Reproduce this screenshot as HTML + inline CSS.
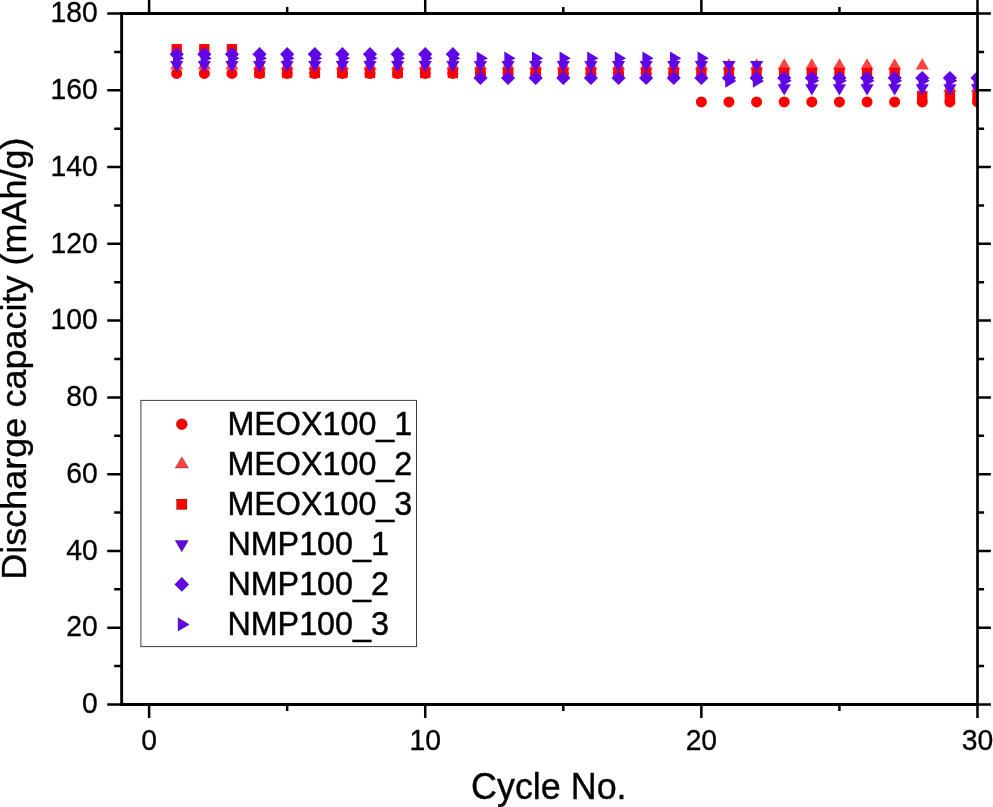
<!DOCTYPE html>
<html><head><meta charset="utf-8"><title>Discharge capacity</title>
<style>html,body{margin:0;padding:0;background:#fff}body{width:993px;height:807px;overflow:hidden}</style></head>
<body>
<svg width="993" height="807" viewBox="0 0 993 807" style="display:block">
<rect width="993" height="807" fill="#fff"/>
<defs><clipPath id="pc"><rect x="121.65" y="13.5" width="855.85" height="691.0"/></clipPath></defs>
<g clip-path="url(#pc)" shape-rendering="geometricPrecision">
<circle cx="176.71" cy="73.38" r="5.50" fill="#ff0000"/>
<circle cx="204.33" cy="73.38" r="5.50" fill="#ff0000"/>
<circle cx="231.94" cy="73.38" r="5.50" fill="#ff0000"/>
<circle cx="259.55" cy="73.38" r="5.50" fill="#ff0000"/>
<circle cx="287.16" cy="73.38" r="5.50" fill="#ff0000"/>
<circle cx="314.78" cy="73.38" r="5.50" fill="#ff0000"/>
<circle cx="342.39" cy="73.38" r="5.50" fill="#ff0000"/>
<circle cx="370.00" cy="73.38" r="5.50" fill="#ff0000"/>
<circle cx="397.62" cy="73.38" r="5.50" fill="#ff0000"/>
<circle cx="425.23" cy="73.38" r="5.50" fill="#ff0000"/>
<circle cx="452.84" cy="73.38" r="5.50" fill="#ff0000"/>
<circle cx="480.46" cy="73.38" r="5.50" fill="#ff0000"/>
<circle cx="508.07" cy="73.38" r="5.50" fill="#ff0000"/>
<circle cx="535.68" cy="73.38" r="5.50" fill="#ff0000"/>
<circle cx="563.29" cy="73.38" r="5.50" fill="#ff0000"/>
<circle cx="590.91" cy="73.38" r="5.50" fill="#ff0000"/>
<circle cx="618.52" cy="73.38" r="5.50" fill="#ff0000"/>
<circle cx="646.13" cy="73.38" r="5.50" fill="#ff0000"/>
<circle cx="673.75" cy="73.38" r="5.50" fill="#ff0000"/>
<circle cx="701.36" cy="101.98" r="5.50" fill="#ff0000"/>
<circle cx="728.97" cy="101.98" r="5.50" fill="#ff0000"/>
<circle cx="756.59" cy="101.98" r="5.50" fill="#ff0000"/>
<circle cx="784.20" cy="101.98" r="5.50" fill="#ff0000"/>
<circle cx="811.81" cy="101.98" r="5.50" fill="#ff0000"/>
<circle cx="839.43" cy="101.98" r="5.50" fill="#ff0000"/>
<circle cx="867.04" cy="101.98" r="5.50" fill="#ff0000"/>
<circle cx="894.65" cy="101.98" r="5.50" fill="#ff0000"/>
<circle cx="922.26" cy="101.98" r="5.50" fill="#ff0000"/>
<circle cx="949.88" cy="101.98" r="5.50" fill="#ff0000"/>
<circle cx="977.49" cy="101.98" r="5.50" fill="#ff0000"/>
<polygon points="176.71,58.24 183.31,69.44 170.11,69.44" fill="#ff4343"/>
<polygon points="204.33,58.24 210.93,69.44 197.73,69.44" fill="#ff4343"/>
<polygon points="231.94,58.24 238.54,69.44 225.34,69.44" fill="#ff4343"/>
<polygon points="259.55,58.24 266.15,69.44 252.95,69.44" fill="#ff4343"/>
<polygon points="287.16,58.24 293.76,69.44 280.56,69.44" fill="#ff4343"/>
<polygon points="314.78,58.24 321.38,69.44 308.18,69.44" fill="#ff4343"/>
<polygon points="342.39,58.24 348.99,69.44 335.79,69.44" fill="#ff4343"/>
<polygon points="370.00,58.24 376.60,69.44 363.40,69.44" fill="#ff4343"/>
<polygon points="397.62,58.24 404.22,69.44 391.02,69.44" fill="#ff4343"/>
<polygon points="425.23,58.24 431.83,69.44 418.63,69.44" fill="#ff4343"/>
<polygon points="452.84,58.24 459.44,69.44 446.24,69.44" fill="#ff4343"/>
<polygon points="480.46,58.24 487.06,69.44 473.86,69.44" fill="#ff4343"/>
<polygon points="508.07,58.24 514.67,69.44 501.47,69.44" fill="#ff4343"/>
<polygon points="535.68,58.24 542.28,69.44 529.08,69.44" fill="#ff4343"/>
<polygon points="563.29,58.24 569.89,69.44 556.69,69.44" fill="#ff4343"/>
<polygon points="590.91,58.24 597.51,69.44 584.31,69.44" fill="#ff4343"/>
<polygon points="618.52,58.24 625.12,69.44 611.92,69.44" fill="#ff4343"/>
<polygon points="646.13,58.24 652.73,69.44 639.53,69.44" fill="#ff4343"/>
<polygon points="673.75,58.24 680.35,69.44 667.15,69.44" fill="#ff4343"/>
<polygon points="701.36,58.24 707.96,69.44 694.76,69.44" fill="#ff4343"/>
<polygon points="728.97,58.24 735.57,69.44 722.37,69.44" fill="#ff4343"/>
<polygon points="756.59,58.24 763.19,69.44 749.99,69.44" fill="#ff4343"/>
<polygon points="784.20,58.24 790.80,69.44 777.60,69.44" fill="#ff4343"/>
<polygon points="811.81,58.24 818.41,69.44 805.21,69.44" fill="#ff4343"/>
<polygon points="839.43,58.24 846.03,69.44 832.83,69.44" fill="#ff4343"/>
<polygon points="867.04,58.24 873.64,69.44 860.44,69.44" fill="#ff4343"/>
<polygon points="894.65,58.24 901.25,69.44 888.05,69.44" fill="#ff4343"/>
<polygon points="922.26,58.24 928.86,69.44 915.66,69.44" fill="#ff4343"/>
<polygon points="949.88,80.51 956.48,91.71 943.28,91.71" fill="#ff4343"/>
<polygon points="977.49,80.51 984.09,91.71 970.89,91.71" fill="#ff4343"/>
<rect x="171.56" y="44.05" width="10.3" height="10.3" fill="#ff0000"/>
<rect x="199.18" y="44.05" width="10.3" height="10.3" fill="#ff0000"/>
<rect x="226.79" y="44.05" width="10.3" height="10.3" fill="#ff0000"/>
<rect x="254.40" y="67.85" width="10.3" height="10.3" fill="#ff0000"/>
<rect x="282.01" y="67.85" width="10.3" height="10.3" fill="#ff0000"/>
<rect x="309.63" y="67.85" width="10.3" height="10.3" fill="#ff0000"/>
<rect x="337.24" y="67.85" width="10.3" height="10.3" fill="#ff0000"/>
<rect x="364.85" y="67.85" width="10.3" height="10.3" fill="#ff0000"/>
<rect x="392.47" y="67.85" width="10.3" height="10.3" fill="#ff0000"/>
<rect x="420.08" y="67.85" width="10.3" height="10.3" fill="#ff0000"/>
<rect x="447.69" y="67.85" width="10.3" height="10.3" fill="#ff0000"/>
<rect x="475.31" y="67.85" width="10.3" height="10.3" fill="#ff0000"/>
<rect x="502.92" y="67.85" width="10.3" height="10.3" fill="#ff0000"/>
<rect x="530.53" y="67.85" width="10.3" height="10.3" fill="#ff0000"/>
<rect x="558.14" y="67.85" width="10.3" height="10.3" fill="#ff0000"/>
<rect x="585.76" y="67.85" width="10.3" height="10.3" fill="#ff0000"/>
<rect x="613.37" y="67.85" width="10.3" height="10.3" fill="#ff0000"/>
<rect x="640.98" y="67.85" width="10.3" height="10.3" fill="#ff0000"/>
<rect x="668.60" y="67.85" width="10.3" height="10.3" fill="#ff0000"/>
<rect x="696.21" y="67.85" width="10.3" height="10.3" fill="#ff0000"/>
<rect x="723.82" y="67.85" width="10.3" height="10.3" fill="#ff0000"/>
<rect x="751.44" y="67.85" width="10.3" height="10.3" fill="#ff0000"/>
<rect x="779.05" y="67.85" width="10.3" height="10.3" fill="#ff0000"/>
<rect x="806.66" y="67.85" width="10.3" height="10.3" fill="#ff0000"/>
<rect x="834.28" y="67.85" width="10.3" height="10.3" fill="#ff0000"/>
<rect x="861.89" y="67.85" width="10.3" height="10.3" fill="#ff0000"/>
<rect x="889.50" y="67.85" width="10.3" height="10.3" fill="#ff0000"/>
<rect x="917.11" y="90.88" width="10.3" height="10.3" fill="#ff0000"/>
<rect x="944.73" y="90.88" width="10.3" height="10.3" fill="#ff0000"/>
<rect x="972.34" y="90.88" width="10.3" height="10.3" fill="#ff0000"/>
<polygon points="176.71,72.21 183.31,61.01 170.11,61.01" fill="#5f05e6"/>
<polygon points="204.33,72.21 210.93,61.01 197.73,61.01" fill="#5f05e6"/>
<polygon points="231.94,72.21 238.54,61.01 225.34,61.01" fill="#5f05e6"/>
<polygon points="259.55,72.21 266.15,61.01 252.95,61.01" fill="#5f05e6"/>
<polygon points="287.16,72.21 293.76,61.01 280.56,61.01" fill="#5f05e6"/>
<polygon points="314.78,72.21 321.38,61.01 308.18,61.01" fill="#5f05e6"/>
<polygon points="342.39,72.21 348.99,61.01 335.79,61.01" fill="#5f05e6"/>
<polygon points="370.00,72.21 376.60,61.01 363.40,61.01" fill="#5f05e6"/>
<polygon points="397.62,72.21 404.22,61.01 391.02,61.01" fill="#5f05e6"/>
<polygon points="425.23,72.21 431.83,61.01 418.63,61.01" fill="#5f05e6"/>
<polygon points="452.84,72.21 459.44,61.01 446.24,61.01" fill="#5f05e6"/>
<polygon points="480.46,72.21 487.06,61.01 473.86,61.01" fill="#5f05e6"/>
<polygon points="508.07,72.21 514.67,61.01 501.47,61.01" fill="#5f05e6"/>
<polygon points="535.68,72.21 542.28,61.01 529.08,61.01" fill="#5f05e6"/>
<polygon points="563.29,72.21 569.89,61.01 556.69,61.01" fill="#5f05e6"/>
<polygon points="590.91,72.21 597.51,61.01 584.31,61.01" fill="#5f05e6"/>
<polygon points="618.52,72.21 625.12,61.01 611.92,61.01" fill="#5f05e6"/>
<polygon points="646.13,72.21 652.73,61.01 639.53,61.01" fill="#5f05e6"/>
<polygon points="673.75,72.21 680.35,61.01 667.15,61.01" fill="#5f05e6"/>
<polygon points="701.36,72.21 707.96,61.01 694.76,61.01" fill="#5f05e6"/>
<polygon points="728.97,72.21 735.57,61.01 722.37,61.01" fill="#5f05e6"/>
<polygon points="756.59,72.21 763.19,61.01 749.99,61.01" fill="#5f05e6"/>
<polygon points="784.20,95.44 790.80,84.24 777.60,84.24" fill="#5f05e6"/>
<polygon points="811.81,95.44 818.41,84.24 805.21,84.24" fill="#5f05e6"/>
<polygon points="839.43,95.44 846.03,84.24 832.83,84.24" fill="#5f05e6"/>
<polygon points="867.04,95.44 873.64,84.24 860.44,84.24" fill="#5f05e6"/>
<polygon points="894.65,95.44 901.25,84.24 888.05,84.24" fill="#5f05e6"/>
<polygon points="922.26,95.44 928.86,84.24 915.66,84.24" fill="#5f05e6"/>
<polygon points="949.88,95.44 956.48,84.24 943.28,84.24" fill="#5f05e6"/>
<polygon points="977.49,95.44 984.09,84.24 970.89,84.24" fill="#5f05e6"/>
<polygon points="176.71,47.09 183.81,54.19 176.71,61.29 169.61,54.19" fill="#5f05e6"/>
<polygon points="204.33,47.09 211.43,54.19 204.33,61.29 197.23,54.19" fill="#5f05e6"/>
<polygon points="231.94,47.09 239.04,54.19 231.94,61.29 224.84,54.19" fill="#5f05e6"/>
<polygon points="259.55,47.09 266.65,54.19 259.55,61.29 252.45,54.19" fill="#5f05e6"/>
<polygon points="287.16,47.09 294.26,54.19 287.16,61.29 280.06,54.19" fill="#5f05e6"/>
<polygon points="314.78,47.09 321.88,54.19 314.78,61.29 307.68,54.19" fill="#5f05e6"/>
<polygon points="342.39,47.09 349.49,54.19 342.39,61.29 335.29,54.19" fill="#5f05e6"/>
<polygon points="370.00,47.09 377.10,54.19 370.00,61.29 362.90,54.19" fill="#5f05e6"/>
<polygon points="397.62,47.09 404.72,54.19 397.62,61.29 390.52,54.19" fill="#5f05e6"/>
<polygon points="425.23,47.09 432.33,54.19 425.23,61.29 418.13,54.19" fill="#5f05e6"/>
<polygon points="452.84,47.09 459.94,54.19 452.84,61.29 445.74,54.19" fill="#5f05e6"/>
<polygon points="480.46,70.89 487.56,77.99 480.46,85.09 473.36,77.99" fill="#5f05e6"/>
<polygon points="508.07,70.89 515.17,77.99 508.07,85.09 500.97,77.99" fill="#5f05e6"/>
<polygon points="535.68,70.89 542.78,77.99 535.68,85.09 528.58,77.99" fill="#5f05e6"/>
<polygon points="563.29,70.89 570.39,77.99 563.29,85.09 556.19,77.99" fill="#5f05e6"/>
<polygon points="590.91,70.89 598.01,77.99 590.91,85.09 583.81,77.99" fill="#5f05e6"/>
<polygon points="618.52,70.89 625.62,77.99 618.52,85.09 611.42,77.99" fill="#5f05e6"/>
<polygon points="646.13,70.89 653.23,77.99 646.13,85.09 639.03,77.99" fill="#5f05e6"/>
<polygon points="673.75,70.89 680.85,77.99 673.75,85.09 666.65,77.99" fill="#5f05e6"/>
<polygon points="701.36,70.89 708.46,77.99 701.36,85.09 694.26,77.99" fill="#5f05e6"/>
<polygon points="728.97,70.89 736.07,77.99 728.97,85.09 721.87,77.99" fill="#5f05e6"/>
<polygon points="756.59,70.89 763.69,77.99 756.59,85.09 749.49,77.99" fill="#5f05e6"/>
<polygon points="784.20,70.89 791.30,77.99 784.20,85.09 777.10,77.99" fill="#5f05e6"/>
<polygon points="811.81,70.89 818.91,77.99 811.81,85.09 804.71,77.99" fill="#5f05e6"/>
<polygon points="839.43,70.89 846.53,77.99 839.43,85.09 832.33,77.99" fill="#5f05e6"/>
<polygon points="867.04,70.89 874.14,77.99 867.04,85.09 859.94,77.99" fill="#5f05e6"/>
<polygon points="894.65,70.89 901.75,77.99 894.65,85.09 887.55,77.99" fill="#5f05e6"/>
<polygon points="922.26,70.89 929.36,77.99 922.26,85.09 915.16,77.99" fill="#5f05e6"/>
<polygon points="949.88,70.89 956.98,77.99 949.88,85.09 942.78,77.99" fill="#5f05e6"/>
<polygon points="977.49,70.89 984.59,77.99 977.49,85.09 970.39,77.99" fill="#5f05e6"/>
<polygon points="184.18,58.22 172.98,51.62 172.98,64.82" fill="#5f05e6"/>
<polygon points="211.79,58.22 200.59,51.62 200.59,64.82" fill="#5f05e6"/>
<polygon points="239.41,58.22 228.21,51.62 228.21,64.82" fill="#5f05e6"/>
<polygon points="267.02,58.22 255.82,51.62 255.82,64.82" fill="#5f05e6"/>
<polygon points="294.63,58.22 283.43,51.62 283.43,64.82" fill="#5f05e6"/>
<polygon points="322.24,58.22 311.04,51.62 311.04,64.82" fill="#5f05e6"/>
<polygon points="349.86,58.22 338.66,51.62 338.66,64.82" fill="#5f05e6"/>
<polygon points="377.47,58.22 366.27,51.62 366.27,64.82" fill="#5f05e6"/>
<polygon points="405.08,58.22 393.88,51.62 393.88,64.82" fill="#5f05e6"/>
<polygon points="432.70,58.22 421.50,51.62 421.50,64.82" fill="#5f05e6"/>
<polygon points="460.31,58.22 449.11,51.62 449.11,64.82" fill="#5f05e6"/>
<polygon points="487.92,58.22 476.72,51.62 476.72,64.82" fill="#5f05e6"/>
<polygon points="515.54,58.22 504.34,51.62 504.34,64.82" fill="#5f05e6"/>
<polygon points="543.15,58.22 531.95,51.62 531.95,64.82" fill="#5f05e6"/>
<polygon points="570.76,58.22 559.56,51.62 559.56,64.82" fill="#5f05e6"/>
<polygon points="598.37,58.22 587.17,51.62 587.17,64.82" fill="#5f05e6"/>
<polygon points="625.99,58.22 614.79,51.62 614.79,64.82" fill="#5f05e6"/>
<polygon points="653.60,58.22 642.40,51.62 642.40,64.82" fill="#5f05e6"/>
<polygon points="681.21,58.22 670.01,51.62 670.01,64.82" fill="#5f05e6"/>
<polygon points="708.83,58.22 697.63,51.62 697.63,64.82" fill="#5f05e6"/>
<polygon points="736.44,81.06 725.24,74.46 725.24,87.66" fill="#5f05e6"/>
<polygon points="764.05,81.06 752.85,74.46 752.85,87.66" fill="#5f05e6"/>
<polygon points="791.67,80.68 780.47,74.08 780.47,87.28" fill="#5f05e6"/>
<polygon points="819.28,80.68 808.08,74.08 808.08,87.28" fill="#5f05e6"/>
<polygon points="846.89,80.68 835.69,74.08 835.69,87.28" fill="#5f05e6"/>
<polygon points="874.50,80.68 863.30,74.08 863.30,87.28" fill="#5f05e6"/>
<polygon points="902.12,80.68 890.92,74.08 890.92,87.28" fill="#5f05e6"/>
<polygon points="929.73,80.68 918.53,74.08 918.53,87.28" fill="#5f05e6"/>
<polygon points="957.34,80.68 946.14,74.08 946.14,87.28" fill="#5f05e6"/>
<polygon points="984.96,80.68 973.76,74.08 973.76,87.28" fill="#5f05e6"/>
</g>
<g stroke="#000" stroke-width="2.9" fill="none" stroke-linecap="butt">
<path d="M121.65 12.05V706.0" stroke-width="2.9"/>
<path d="M977.5 12.05V706.0" stroke-width="2.7"/>
<path d="M120.2 13.5H978.75" stroke-width="2.9"/>
<path d="M120.2 704.5H978.75" stroke-width="3.0"/>
</g>
<g stroke="#000" stroke-width="2.5" fill="none" stroke-linecap="butt">
<path d="M107.25 704.50H121.65M977.5 704.50H990.90"/>
<path d="M114.20 666.11H121.65M977.5 666.11H984.10"/>
<path d="M107.25 627.72H121.65M977.5 627.72H990.90"/>
<path d="M114.20 589.33H121.65M977.5 589.33H984.10"/>
<path d="M107.25 550.94H121.65M977.5 550.94H990.90"/>
<path d="M114.20 512.55H121.65M977.5 512.55H984.10"/>
<path d="M107.25 474.17H121.65M977.5 474.17H990.90"/>
<path d="M114.20 435.78H121.65M977.5 435.78H984.10"/>
<path d="M107.25 397.39H121.65M977.5 397.39H990.90"/>
<path d="M114.20 359.00H121.65M977.5 359.00H984.10"/>
<path d="M107.25 320.61H121.65M977.5 320.61H990.90"/>
<path d="M114.20 282.22H121.65M977.5 282.22H984.10"/>
<path d="M107.25 243.83H121.65M977.5 243.83H990.90"/>
<path d="M114.20 205.44H121.65M977.5 205.44H984.10"/>
<path d="M107.25 167.05H121.65M977.5 167.05H990.90"/>
<path d="M114.20 128.66H121.65M977.5 128.66H984.10"/>
<path d="M107.25 90.28H121.65M977.5 90.28H990.90"/>
<path d="M114.20 51.89H121.65M977.5 51.89H984.10"/>
<path d="M107.25 13.50H121.65M977.5 13.50H990.90"/>
<path d="M149.10 704.5V717.90M149.10 13.5V0.10"/>
<path d="M287.16 704.5V711.10M287.16 13.5V6.90"/>
<path d="M425.23 704.5V717.90M425.23 13.5V0.10"/>
<path d="M563.29 704.5V711.10M563.29 13.5V6.90"/>
<path d="M701.36 704.5V717.90M701.36 13.5V0.10"/>
<path d="M839.43 704.5V711.10M839.43 13.5V6.90"/>
<path d="M977.49 704.5V717.90M977.49 13.5V0.10"/>
</g>
<g font-family="'Liberation Sans', sans-serif" fill="#000" stroke="#000" stroke-width="0.3">
<text transform="translate(97.80 713.25) scale(1 1.03)" font-size="28.3" text-anchor="end">0</text>
<text transform="translate(97.80 636.47) scale(1 1.03)" font-size="28.3" text-anchor="end">20</text>
<text transform="translate(97.80 559.69) scale(1 1.03)" font-size="28.3" text-anchor="end">40</text>
<text transform="translate(97.80 482.92) scale(1 1.03)" font-size="28.3" text-anchor="end">60</text>
<text transform="translate(97.80 406.14) scale(1 1.03)" font-size="28.3" text-anchor="end">80</text>
<text transform="translate(97.80 329.36) scale(1 1.03)" font-size="28.3" text-anchor="end">100</text>
<text transform="translate(97.80 252.58) scale(1 1.03)" font-size="28.3" text-anchor="end">120</text>
<text transform="translate(97.80 175.80) scale(1 1.03)" font-size="28.3" text-anchor="end">140</text>
<text transform="translate(97.80 99.03) scale(1 1.03)" font-size="28.3" text-anchor="end">160</text>
<text transform="translate(97.80 22.25) scale(1 1.03)" font-size="28.3" text-anchor="end">180</text>
<text transform="translate(149.10 750.15) scale(1 1.03)" font-size="28.3" text-anchor="middle">0</text>
<text transform="translate(425.23 750.15) scale(1 1.03)" font-size="28.3" text-anchor="middle">10</text>
<text transform="translate(701.36 750.15) scale(1 1.03)" font-size="28.3" text-anchor="middle">20</text>
<text transform="translate(977.49 750.15) scale(1 1.03)" font-size="28.3" text-anchor="middle">30</text>
<text transform="translate(548.80 798.70) scale(1 1.03)" font-size="35.9" text-anchor="middle" stroke="#000" stroke-width="0.35">Cycle No.</text>
<text transform="translate(25.9 358.6) rotate(-90) scale(1 0.95)" font-size="36" text-anchor="middle" stroke="#000" stroke-width="0.35">Discharge capacity (mAh/g)</text>
<rect x="140.9" y="400.4" width="275.6" height="246.2" fill="#fff" stroke="#3c3c3c" stroke-width="1"/>
<circle cx="181.80" cy="424.15" r="5.50" fill="#ff0000"/>
<text transform="translate(227.40 434.65) scale(1 1.015)" font-size="32.3" text-anchor="start" stroke="#000" stroke-width="0.45">MEOX100_1</text>
<polygon points="181.80,456.74 188.40,467.94 175.20,467.94" fill="#ff4343"/>
<text transform="translate(227.40 474.71) scale(1 1.015)" font-size="32.3" text-anchor="start" stroke="#000" stroke-width="0.45">MEOX100_2</text>
<rect x="176.65" y="499.12" width="10.3" height="10.3" fill="#ff0000"/>
<text transform="translate(227.40 514.77) scale(1 1.015)" font-size="32.3" text-anchor="start" stroke="#000" stroke-width="0.45">MEOX100_3</text>
<polygon points="181.80,551.80 188.40,540.60 175.20,540.60" fill="#5f05e6"/>
<text transform="translate(227.40 554.83) scale(1 1.015)" font-size="32.3" text-anchor="start" stroke="#000" stroke-width="0.45">NMP100_1</text>
<polygon points="181.80,577.29 188.90,584.39 181.80,591.49 174.70,584.39" fill="#5f05e6"/>
<text transform="translate(227.40 594.89) scale(1 1.015)" font-size="32.3" text-anchor="start" stroke="#000" stroke-width="0.45">NMP100_2</text>
<polygon points="189.27,624.45 178.07,617.85 178.07,631.05" fill="#5f05e6"/>
<text transform="translate(227.40 634.95) scale(1 1.015)" font-size="32.3" text-anchor="start" stroke="#000" stroke-width="0.45">NMP100_3</text>
</g>
</svg>
</body></html>
